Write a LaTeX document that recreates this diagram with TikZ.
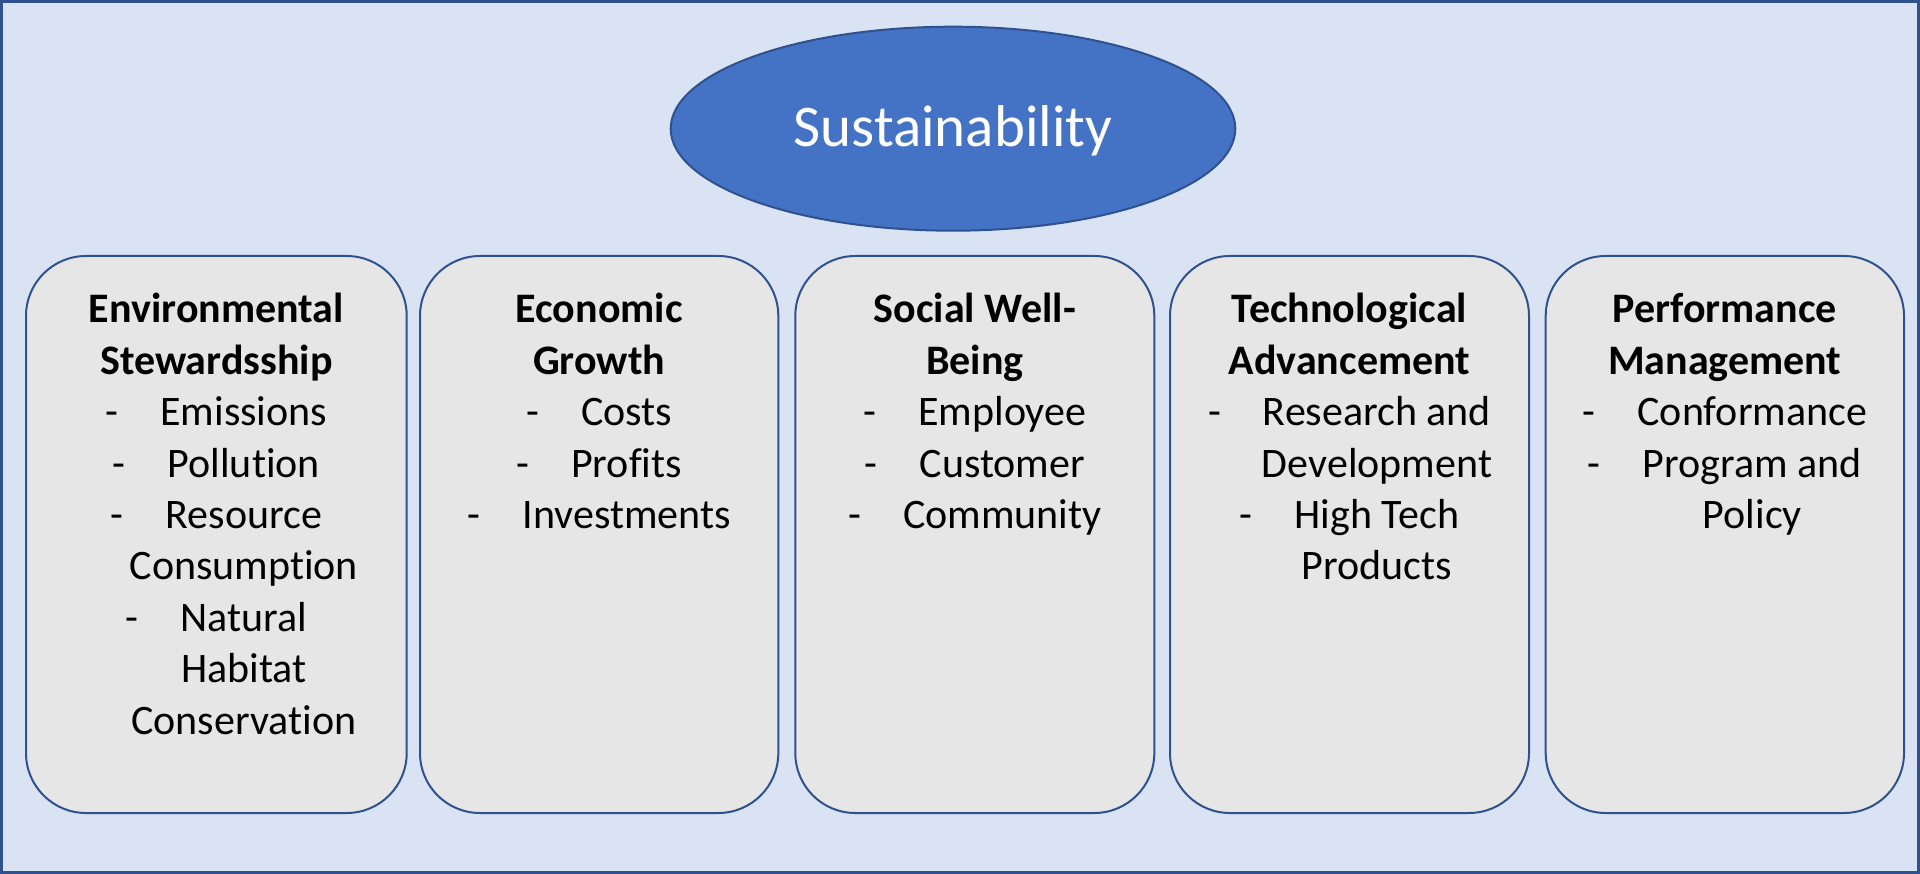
\documentclass[tikz,border=0pt]{standalone}
\usepackage{fontspec}
\setmainfont{Carlito}[Ligatures={NoCommon}]
\usetikzlibrary{shapes.geometric}
\definecolor{lightblue}{RGB}{218, 227, 243}
\definecolor{darkblue}{RGB}{47, 82, 143}
\definecolor{midblue}{RGB}{68, 114, 196}
\definecolor{lightgrey}{RGB}{231, 230, 230}
\newcommand{\dashitem}[1]{\makebox[55pt][l]{-}#1}
\newcommand{\wrapline}[1]{\hspace*{55pt}#1}

\begin{document}
\begin{tikzpicture}[x=1pt,y=-1pt,
        pillar/.style={draw=darkblue, line width=2pt, fill=lightgrey, rounded corners=60pt,
            minimum height=557pt, anchor=north west, inner sep=0pt, outer sep=0pt},
        pillartext/.style={anchor=north, align=center, inner sep=0pt, yshift=-30.7pt,
            font=\fontsize{42}{51.4}\selectfont}]
        \useasboundingbox (0,0) rectangle (1920,874);
        \fill [lightblue] (0,0) rectangle (1920,874);
        \draw [darkblue, line width=3pt] (1.5,1.5) rectangle (1918.5,872.5);

        \node[ellipse, draw=darkblue, line width=2pt, fill=midblue, text=white,
            minimum width=564.6pt, minimum height=204pt, text height=36pt, text depth=0pt,
            font=\fontsize{59}{70}\selectfont] (sust) at (953,128.7) {Sustainability};

        \node[pillar, minimum width=380.7pt] (env) at (26,256) {};
        \node[pillar, minimum width=358.3pt] (econ) at (420,256) {};
        \node[pillar, minimum width=359pt] (social) at (795.3,256) {};
        \node[pillar, minimum width=359pt] (tech) at (1170,256) {};
        \node[pillar, minimum width=358.3pt] (perf) at (1545.7,256) {};

        \node[pillartext] (envtxt) at (env.north)
        {\strut\textbf{Environmental}\\ \textbf{Stewardsship}\\
        \dashitem{Emissions}\\ \dashitem{Pollution}\\ \dashitem{Resource}\\
        \wrapline{Consumption}\\ \dashitem{Natural}\\ \wrapline{Habitat}\\
        \wrapline{Conservation}};
        \node[pillartext] (econtxt) at (econ.north)
        {\strut\textbf{Economic}\\ \textbf{Growth}\\
        \dashitem{Costs}\\ \dashitem{Profits}\\ \dashitem{Investments}};
        \node[pillartext] (socialtxt) at (social.north)
        {\strut\textbf{Social Well-}\\ \textbf{Being}\\
        \dashitem{Employee}\\ \dashitem{Customer}\\ \dashitem{Community}};
        \node[pillartext] (techtxt) at (tech.north)
        {\strut\textbf{Technological}\\ \textbf{Advancement}\\
        \dashitem{Research and}\\ \wrapline{Development}\\
        \dashitem{High Tech}\\ \wrapline{Products}};
        \node[pillartext] (perftxt) at (perf.north)
        {\strut\textbf{Performance}\\ \textbf{Management}\\
        \dashitem{Conformance}\\ \dashitem{Program and}\\ \wrapline{Policy}};
\end{tikzpicture}
\end{document}
